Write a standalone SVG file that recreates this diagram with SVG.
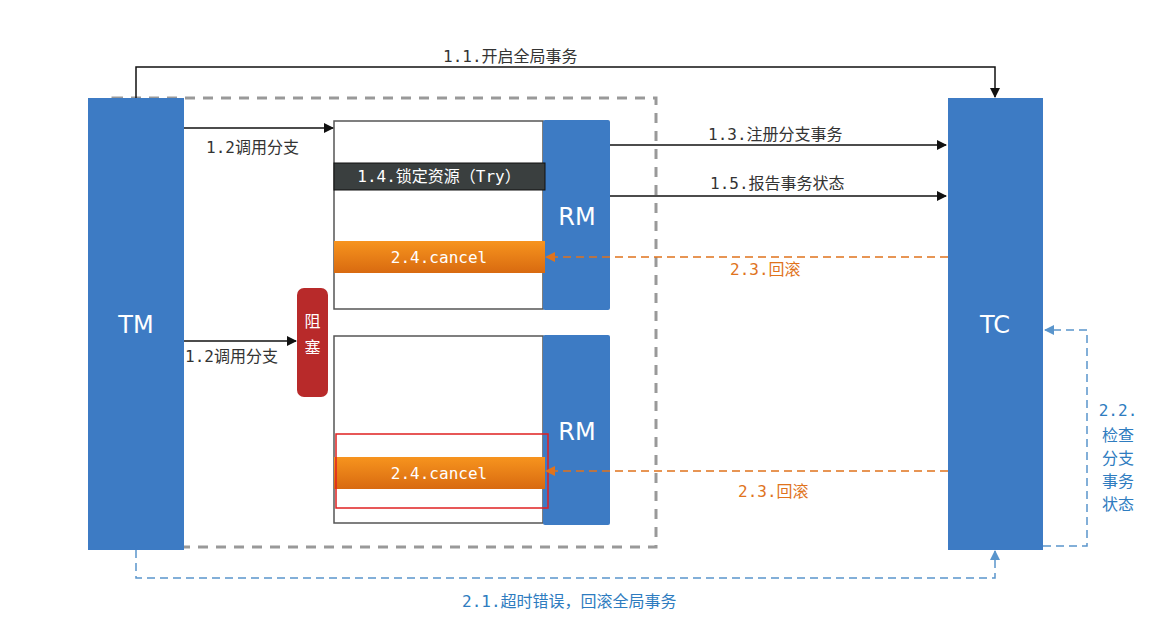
<svg xmlns="http://www.w3.org/2000/svg" width="1153" height="621" viewBox="0 0 1153 621">
<defs>
<style>
.t{font-family:"DejaVu Sans Mono","Noto Sans CJK SC",monospace;font-size:16px}
.blk{fill:#333}.org{fill:#e0731c}.blu{fill:#2e7cc0}
.big{font-family:"DejaVu Sans","Noto Sans CJK SC",sans-serif;font-size:24px;fill:#fff}
.col{fill:#3d7bc4}
</style>
<marker id="ab" markerWidth="10" markerHeight="10" refX="9" refY="5" orient="auto" markerUnits="userSpaceOnUse"><path d="M0,0 L10,5 L0,10 z" fill="#111"/></marker>
<marker id="ao" markerWidth="10" markerHeight="10" refX="9" refY="5" orient="auto" markerUnits="userSpaceOnUse"><path d="M0,0 L10,5 L0,10 z" fill="#e0731c"/></marker>
<marker id="au" markerWidth="10" markerHeight="10" refX="9" refY="5" orient="auto" markerUnits="userSpaceOnUse"><path d="M0,0 L10,5 L0,10 z" fill="#5a95cc"/></marker>
<linearGradient id="og" x1="0" y1="0" x2="0" y2="1"><stop offset="0" stop-color="#f7941e"/><stop offset="1" stop-color="#d86a10"/></linearGradient>
</defs>
<rect width="1153" height="621" fill="#fff"/>
<rect x="113" y="98" width="543" height="449" fill="none" stroke="#999" stroke-width="3" stroke-dasharray="10,8"/>
<g id="TM"><rect x="88" y="98" width="96" height="452" class="col"/><text x="136" y="333" class="big" text-anchor="middle">TM</text></g>
<g id="TC"><rect x="948" y="98" width="95" height="452" class="col"/><text x="995" y="333" class="big" text-anchor="middle">TC</text></g>
<g id="branch1"><rect x="334" y="121" width="209" height="188" fill="#fff" stroke="#555" stroke-width="1.5"/></g>
<g id="RM1"><rect x="543" y="120" width="67" height="190" rx="2" class="col"/><text x="577" y="225" class="big" text-anchor="middle">RM</text></g>
<g id="branch2"><rect x="334" y="336" width="209" height="187" fill="#fff" stroke="#555" stroke-width="1.5"/></g>
<g id="RM2"><rect x="543" y="335" width="67" height="190" rx="2" class="col"/><text x="577" y="440" class="big" text-anchor="middle">RM</text></g>
<g id="try"><rect x="334" y="163" width="211" height="27" fill="#3a3f3f" stroke="#111"/><text x="439" y="182" class="t" fill="#fff" text-anchor="middle">1.4.锁定资源（Try）</text></g>
<g id="cancel1"><rect x="334" y="241" width="211" height="32" fill="url(#og)"/><text x="439" y="263" class="t" fill="#fff" text-anchor="middle">2.4.cancel</text></g>
<g id="cancel2"><rect x="334" y="457" width="211" height="32" fill="url(#og)"/><text x="439" y="479" class="t" fill="#fff" text-anchor="middle">2.4.cancel</text></g>
<rect x="336" y="434" width="212" height="74" fill="none" stroke="#e02020" stroke-width="1.5"/>
<g id="block"><rect x="297" y="288" width="31" height="109" rx="7" fill="#b82a2a"/><text x="312.5" y="327" font-family="Noto Sans CJK SC,sans-serif" font-size="16" fill="#fff" text-anchor="middle">阻</text><text x="312.5" y="353" font-family="Noto Sans CJK SC,sans-serif" font-size="16" fill="#fff" text-anchor="middle">塞</text></g>
<g id="connectors" fill="none" stroke-width="1.5">
<path d="M136,98 V67 H995 V97" stroke="#111" marker-end="url(#ab)"/>
<path d="M184,128 H333" stroke="#111" marker-end="url(#ab)"/>
<path d="M184,341 H296" stroke="#111" marker-end="url(#ab)"/>
<path d="M610,145 H946" stroke="#111" marker-end="url(#ab)"/>
<path d="M610,196 H946" stroke="#111" marker-end="url(#ab)"/>
<path d="M948,257 H546" stroke="#e0731c" stroke-dasharray="8,5" marker-end="url(#ao)"/>
<path d="M948,471 H546" stroke="#e0731c" stroke-dasharray="8,5" marker-end="url(#ao)"/>
<path d="M1043,546 H1087 V330 H1045" stroke="#5a95cc" stroke-dasharray="8,5" marker-end="url(#au)"/>
<path d="M136,550 V578 H995 V551" stroke="#5a95cc" stroke-dasharray="8,5" marker-end="url(#au)"/>
</g>
<g class="t">
<text x="443" y="62" class="blk">1.1.开启全局事务</text>
<text x="206" y="153" class="blk">1.2调用分支</text>
<text x="185" y="362" class="blk">1.2调用分支</text>
<text x="708" y="140" class="blk">1.3.注册分支事务</text>
<text x="710" y="189" class="blk">1.5.报告事务状态</text>
<text x="730" y="275" class="org">2.3.回滚</text>
<text x="738" y="497" class="org">2.3.回滚</text>
<text x="462" y="607" class="blu">2.1.超时错误，回滚全局事务</text>
<text x="1118" y="416" class="blu" text-anchor="middle">2.2.</text>
<text x="1118" y="441" class="blu" text-anchor="middle">检查</text>
<text x="1118" y="464" class="blu" text-anchor="middle">分支</text>
<text x="1118" y="487" class="blu" text-anchor="middle">事务</text>
<text x="1118" y="510" class="blu" text-anchor="middle">状态</text>
</g>
</svg>
